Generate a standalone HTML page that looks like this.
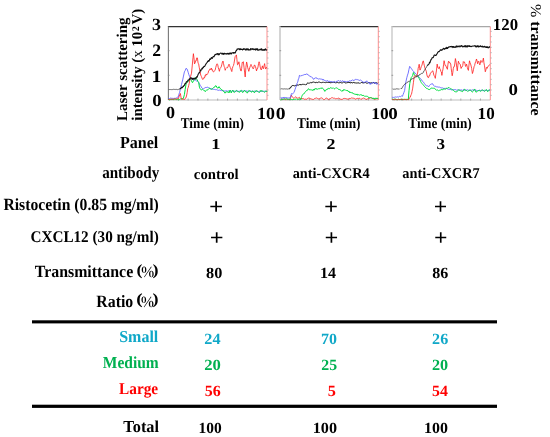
<!DOCTYPE html>
<html><head><meta charset="utf-8"><title>Laser scattering aggregation</title>
<style>
html,body{margin:0;padding:0;background:#fff;}
body{width:550px;height:437px;overflow:hidden;position:relative;}
svg{position:absolute;left:0;top:0;display:block;}
svg text{font-family:'Liberation Serif', 'Times New Roman', serif;font-weight:700;white-space:pre;text-rendering:geometricPrecision;}
svg text .pc{font-weight:400;}
</style></head><body>
<svg width="550" height="437" viewBox="0 0 550 437">
<rect x="0" y="0" width="550" height="437" fill="#fff"/>
<g id="charts">
<line x1="168.4" y1="100" x2="267" y2="100" stroke="#bdbdbd" stroke-width="1"/>
<line x1="178.26" y1="100.5" x2="178.26" y2="98.5" stroke="#9a9a9a" stroke-width="0.8"/>
<line x1="188.12" y1="100.5" x2="188.12" y2="98.5" stroke="#9a9a9a" stroke-width="0.8"/>
<line x1="197.98" y1="100.5" x2="197.98" y2="98.5" stroke="#9a9a9a" stroke-width="0.8"/>
<line x1="207.84" y1="100.5" x2="207.84" y2="98.5" stroke="#9a9a9a" stroke-width="0.8"/>
<line x1="217.70" y1="100.5" x2="217.70" y2="98.5" stroke="#9a9a9a" stroke-width="0.8"/>
<line x1="227.56" y1="100.5" x2="227.56" y2="98.5" stroke="#9a9a9a" stroke-width="0.8"/>
<line x1="237.42" y1="100.5" x2="237.42" y2="98.5" stroke="#9a9a9a" stroke-width="0.8"/>
<line x1="247.28" y1="100.5" x2="247.28" y2="98.5" stroke="#9a9a9a" stroke-width="0.8"/>
<line x1="257.14" y1="100.5" x2="257.14" y2="98.5" stroke="#9a9a9a" stroke-width="0.8"/>
<line x1="167.9" y1="26.6" x2="267" y2="26.6" stroke="#333" stroke-width="1.4"/>
<line x1="168.4" y1="26.6" x2="168.4" y2="100" stroke="#777" stroke-width="1.1"/>
<line x1="167.9" y1="50.7" x2="169.6" y2="50.7" stroke="#888" stroke-width="0.8"/>
<line x1="167.9" y1="75.3" x2="169.6" y2="75.3" stroke="#888" stroke-width="0.8"/>
<line x1="267" y1="26.6" x2="267" y2="100" stroke="#ff8c8c" stroke-width="1"/>
<line x1="267" y1="95.33" x2="268.6" y2="95.33" stroke="#aaa" stroke-width="0.7"/>
<line x1="267" y1="90.00" x2="268.6" y2="90.00" stroke="#aaa" stroke-width="0.7"/>
<line x1="267" y1="84.67" x2="268.6" y2="84.67" stroke="#aaa" stroke-width="0.7"/>
<line x1="267" y1="79.33" x2="268.6" y2="79.33" stroke="#aaa" stroke-width="0.7"/>
<line x1="267" y1="74.00" x2="268.6" y2="74.00" stroke="#aaa" stroke-width="0.7"/>
<line x1="267" y1="68.67" x2="268.6" y2="68.67" stroke="#aaa" stroke-width="0.7"/>
<line x1="267" y1="63.33" x2="268.6" y2="63.33" stroke="#aaa" stroke-width="0.7"/>
<line x1="267" y1="58.00" x2="268.6" y2="58.00" stroke="#aaa" stroke-width="0.7"/>
<line x1="267" y1="52.67" x2="268.6" y2="52.67" stroke="#aaa" stroke-width="0.7"/>
<line x1="267" y1="47.33" x2="268.6" y2="47.33" stroke="#aaa" stroke-width="0.7"/>
<line x1="267" y1="42.00" x2="268.6" y2="42.00" stroke="#aaa" stroke-width="0.7"/>
<line x1="267" y1="36.67" x2="268.6" y2="36.67" stroke="#aaa" stroke-width="0.7"/>
<line x1="267" y1="31.33" x2="268.6" y2="31.33" stroke="#aaa" stroke-width="0.7"/>
<polyline points="168.40,98.48 169.03,98.59 169.67,98.57 170.30,98.17 170.93,98.06 171.57,98.29 172.20,98.19 172.83,98.54 173.47,98.43 174.10,98.35 174.73,98.29 175.37,98.34 176.00,97.95 176.73,97.79 177.47,97.23 178.20,97.38 178.95,94.24 179.70,92.22 180.30,89.24 180.90,87.20 181.50,84.49 182.10,82.10 182.70,79.97 183.30,76.96 184.40,71.89 185.20,70.54 186.00,68.31 187.20,69.21 188.20,72.34 188.85,74.61 189.50,76.33 190.60,78.75 191.33,78.78 192.07,79.14 192.80,79.59 193.53,79.50 194.27,80.10 195.00,79.89 195.73,80.24 196.47,80.95 197.20,80.93 197.95,81.64 198.70,82.47 199.45,83.88 200.20,85.32 200.90,86.17 201.60,87.76 202.33,88.29 203.07,88.67 203.80,88.81 204.53,88.10 205.27,87.60 206.00,87.33 206.67,87.45 207.33,87.20 208.00,87.41 208.67,87.74 209.33,88.07 210.00,88.52 210.67,88.53 211.33,88.44 212.00,89.23 212.67,89.08 213.33,89.28 214.00,89.21 214.67,89.48 215.33,89.59 216.00,89.99 216.67,89.64 217.33,90.07 218.00,89.92 218.67,90.40 219.33,90.06 220.00,90.34 220.60,90.44 221.20,90.70 221.80,90.34 222.40,90.67 223.00,90.55 223.60,90.65 224.20,90.83 224.80,91.22 225.40,90.94 226.00,91.32 226.62,90.78 227.23,91.33 227.85,90.95 228.46,90.84 229.08,91.25 229.69,91.38 230.31,90.76 230.92,90.96 231.54,91.33 232.15,91.04 232.77,90.99 233.38,90.84 234.00,90.88 234.62,91.27 235.25,91.51 235.88,91.51 236.50,91.15 237.12,90.80 237.75,91.00 238.38,91.31 239.00,91.33 239.62,91.19 240.25,90.89 240.88,91.08 241.50,91.03 242.12,91.13 242.75,90.86 243.38,91.33 244.00,91.28 244.62,90.78 245.25,90.89 245.88,91.32 246.50,90.92 247.12,91.40 247.75,91.12 248.38,91.27 249.00,91.29 249.62,90.97 250.25,91.04 250.88,91.03 251.50,91.35 252.12,91.38 252.75,91.00 253.38,91.55 254.00,91.24 254.62,91.11 255.24,91.25 255.86,91.62 256.48,91.32 257.10,91.36 257.71,91.57 258.33,91.59 258.95,91.44 259.57,91.20 260.19,91.31 260.81,91.53 261.43,91.45 262.05,91.29 262.67,91.13 263.29,91.14 263.90,91.39 264.52,91.26 265.14,90.88 265.76,91.36 266.38,91.49 267.00,91.41" fill="none" stroke="#5050ff" stroke-width="0.8" stroke-linejoin="round"/>
<polyline points="168.40,99.45 169.00,99.55 169.60,99.90 170.20,99.44 170.80,99.47 171.40,99.54 172.00,99.12 172.60,99.44 173.20,99.55 173.80,99.70 174.40,98.99 175.00,99.19 175.60,98.97 176.20,99.68 176.80,99.55 177.40,98.89 178.00,99.82 178.60,99.79 179.20,99.47 179.80,99.43 180.40,98.96 181.12,98.72 181.85,99.13 182.58,98.56 183.30,98.59 184.40,94.64 185.20,89.33 186.20,83.16 186.83,82.41 187.47,82.08 188.10,81.02 188.72,80.77 189.35,80.25 189.97,80.04 190.60,79.46 191.23,80.18 191.87,81.80 192.50,82.70 193.60,80.54 194.20,79.57 194.80,78.35 195.40,77.43 196.30,78.74 197.20,79.77 197.95,81.57 198.70,82.30 199.40,87.15 200.20,88.89 200.93,89.72 201.67,89.88 202.40,89.30 203.10,89.66 203.80,90.51 204.55,90.62 205.30,91.68 205.98,90.65 206.65,89.87 207.32,89.98 208.00,89.68 208.67,88.87 209.33,88.39 210.00,88.33 210.67,89.30 211.33,89.42 212.00,89.12 212.67,88.58 213.33,87.77 214.00,87.06 214.67,87.16 215.33,85.91 216.00,85.66 216.75,87.00 217.50,88.19 218.25,87.98 219.00,86.63 219.67,87.98 220.33,88.28 221.00,89.42 221.67,89.55 222.33,89.94 223.00,90.97 223.67,91.57 224.33,91.84 225.00,93.18 225.67,92.08 226.33,91.83 227.00,91.85 227.67,91.98 228.33,91.77 229.00,92.99 230.00,90.04 230.61,91.25 231.22,92.93 231.96,91.32 232.71,90.11 233.32,91.12 233.94,92.38 234.54,92.28 235.15,91.35 235.76,91.12 236.36,90.30 237.11,90.83 237.86,91.78 238.61,91.75 239.36,92.28 239.96,92.03 240.57,90.80 241.17,90.22 242.02,91.81 242.88,92.55 243.68,91.08 244.49,90.12 245.18,91.24 245.87,92.01 246.57,91.84 247.26,93.17 248.06,91.92 248.86,90.47 249.57,90.90 250.28,91.19 250.98,91.74 251.66,92.21 252.33,91.02 253.00,91.03 253.67,91.42 254.35,92.83 254.96,92.00 255.58,91.09 256.19,90.37 256.91,91.38 257.63,91.20 258.35,91.83 259.07,92.64 259.71,92.21 260.35,91.26 261.00,90.20 261.75,91.34 262.49,91.13 263.24,91.45 263.99,92.21 264.71,92.07 265.44,91.37 266.16,91.18 266.89,91.06 267.00,91.67" fill="none" stroke="#00e040" stroke-width="1.0" stroke-linejoin="round"/>
<polyline points="168.40,99.40 168.92,99.54 169.43,99.50 169.95,99.53 170.46,99.23 170.98,99.21 171.49,99.14 172.01,99.13 172.53,99.30 173.04,99.02 173.56,99.14 174.07,98.98 174.59,98.98 175.11,98.99 175.62,99.12 176.14,98.99 176.65,98.72 177.17,98.78 177.68,98.70 178.20,98.95 178.70,97.62 179.20,96.32 179.70,95.03 180.40,93.50 181.10,97.98 181.90,99.42 182.48,99.20 183.06,99.44 183.64,99.29 184.22,99.40 184.80,99.33 185.50,98.17 186.20,97.05 186.20,97.14 186.70,95.01 187.20,92.62 187.70,88.58 188.20,87.60 188.70,85.54 189.20,83.52 189.90,79.47 190.60,76.35 191.50,73.17 192.30,65.09 193.00,57.50 193.40,53.70 194.10,59.13 194.50,63.89 195.05,62.99 195.60,60.80 196.15,60.90 196.70,57.92 197.40,57.93 198.10,63.15 198.65,63.90 199.20,67.21 200.00,71.32 200.70,75.06 201.40,76.52 201.95,77.93 202.50,79.36 203.05,79.23 203.60,78.92 204.10,77.23 204.60,77.71 205.10,75.55 205.60,76.13 206.10,73.95 206.60,74.82 207.30,74.08 208.00,73.54 208.63,70.77 209.27,70.51 209.90,68.90 210.60,69.55 211.30,68.01 211.80,69.95 212.30,69.52 212.80,71.05 213.50,71.99 214.20,71.48 214.70,70.65 215.20,69.98 215.70,67.65 216.20,65.85 216.70,64.20 217.20,63.77 217.75,64.79 218.30,67.81 218.85,69.51 219.40,71.31 219.95,68.66 220.50,67.92 221.20,66.93 221.90,64.24 222.45,62.06 223.00,61.02 223.55,63.66 224.10,66.35 224.65,67.32 225.20,70.31 225.75,68.75 226.30,68.23 226.85,67.50 227.40,67.87 227.95,66.96 228.50,65.02 229.05,64.15 229.60,65.57 230.15,67.62 230.70,68.04 231.25,70.23 231.80,71.57 232.35,68.46 232.90,66.56 233.45,65.57 234.00,63.38 234.55,60.03 235.10,56.69 235.75,55.95 236.40,54.90 236.95,59.72 237.50,64.82 238.20,64.23 238.90,61.77 239.45,64.86 240.00,67.64 240.55,70.02 241.10,71.10 241.65,68.45 242.20,62.39 242.75,62.64 243.30,61.68 244.00,67.11 244.60,72.11 245.20,76.95 245.90,67.47 246.60,61.97 247.15,64.13 247.70,67.66 248.25,69.33 248.80,71.33 249.35,68.99 249.90,67.25 250.45,65.67 251.00,64.39 251.55,65.67 252.10,66.91 252.65,67.93 253.20,68.89 253.75,67.73 254.30,65.10 254.85,65.16 255.40,66.44 255.95,68.38 256.50,70.93 257.00,68.79 257.50,68.76 258.00,66.94 258.55,63.75 259.10,61.79 259.65,63.56 260.20,66.96 260.75,69.16 261.30,69.91 261.85,68.18 262.40,65.84 262.95,68.20 263.50,68.81 264.05,65.71 264.60,63.61 265.10,66.63 265.60,69.04 266.10,68.35 266.60,66.98" fill="none" stroke="#ff1c1c" stroke-width="0.8" stroke-linejoin="round"/>
<polyline points="168.40,89.54 169.02,89.58 169.63,89.54 170.25,89.55 170.87,89.52 171.48,89.61 172.10,89.44 172.72,89.58 173.33,89.32 173.95,89.42 174.57,89.42 175.18,89.33 175.80,89.56 176.42,89.38 177.03,89.56 177.65,89.62 178.27,89.32 178.88,89.57 179.50,89.52" fill="none" stroke="#555" stroke-width="0.9" stroke-linejoin="round"/>
<polyline points="179.50,88.77 180.00,88.62 180.47,88.37 180.95,88.65 181.43,87.41 181.90,87.21 182.32,87.59 182.74,87.09 183.16,86.14 183.58,86.37 184.00,85.53 184.44,85.48 184.88,83.77 185.32,83.28 185.76,83.70 186.20,82.17 186.64,81.58 187.08,82.01 187.52,81.29 187.96,80.08 188.40,80.28 188.84,80.10 189.28,78.94 189.72,79.36 190.16,78.16 190.60,78.14 191.03,77.73 191.46,77.93 191.89,79.16 192.31,78.25 192.74,79.18 193.17,78.30 193.60,78.57 194.04,79.08 194.48,78.86 194.92,78.02 195.36,78.86 195.80,79.01 196.27,77.56 196.73,76.68 197.20,77.20 197.70,75.66 198.20,74.18 198.70,73.62 199.15,72.50 199.60,72.68 200.05,71.45 200.50,70.06 200.90,70.77 201.30,69.16 201.70,69.03 202.10,68.18 202.50,68.88 202.97,67.38 203.45,67.54 203.93,66.35 204.40,66.47 204.88,66.05 205.35,65.06 205.83,64.18 206.30,63.48 206.72,62.90 207.14,62.65 207.56,61.35 207.98,61.46 208.40,60.58 208.82,61.18 209.24,60.90 209.66,59.11 210.08,58.83 210.50,59.33 210.96,58.77 211.42,57.55 211.88,58.31 212.34,58.35 212.80,57.18 213.21,56.66 213.63,56.61 214.04,56.80 214.46,55.32 214.87,54.98 215.29,54.40 215.70,54.71 216.10,54.39 216.50,53.98 216.90,54.13 217.30,53.50 217.70,53.88 218.10,54.89 218.50,54.19 218.90,53.64 219.30,54.63 219.70,53.64 220.10,53.40 220.50,53.04 220.90,53.20 221.30,53.26 221.70,53.30 222.10,54.31 222.50,53.31 222.90,53.27 223.30,53.82 223.70,54.30 224.10,53.28 224.50,54.02 224.90,53.37 225.30,53.66 225.70,53.70 226.10,54.23 226.50,53.92 226.90,53.50 227.30,54.02 227.70,53.24 228.10,53.25 228.50,54.15 228.90,53.47 229.31,53.81 229.73,53.05 230.14,53.98 230.56,53.47 230.97,52.85 231.39,53.92 231.80,53.15 232.23,52.92 232.65,52.77 233.07,52.49 233.50,52.62 233.93,53.38 234.35,52.48 234.77,52.64 235.20,52.92 235.70,51.82 236.20,50.31 236.70,50.36 237.20,48.91 237.61,49.09 238.02,49.18 238.43,48.71 238.84,48.86 239.25,48.73 239.66,49.66 240.07,48.73 240.48,49.57 240.89,48.86 241.31,49.54 241.72,49.55 242.13,49.07 242.54,49.99 242.95,49.55 243.36,49.39 243.77,48.57 244.18,49.15 244.59,48.93 245.00,49.25 245.40,49.99 245.80,49.88 246.20,48.60 246.60,49.59 247.00,49.99 247.40,49.37 247.80,48.65 248.20,49.89 248.60,49.18 249.00,50.07 249.40,49.90 249.80,49.83 250.20,49.99 250.60,48.61 251.00,49.77 251.40,48.99 251.80,48.72 252.20,49.11 252.60,49.44 253.00,48.51 253.40,49.22 253.80,49.75 254.20,49.29 254.60,49.35 255.00,48.97 255.40,50.06 255.80,48.92 256.20,49.62 256.60,49.57 257.00,48.55 257.40,50.15 257.80,48.95 258.20,50.16 258.60,50.08 259.00,50.04 259.40,49.98 259.80,49.26 260.20,49.34 260.60,49.19 261.00,50.15 261.40,48.71 261.80,48.89 262.20,50.21 262.60,49.98 263.00,49.83 263.40,50.26 263.80,49.56 264.20,50.07 264.60,49.45 265.00,50.19 265.40,48.87 265.80,49.47 266.20,49.70 266.60,50.06 267.00,49.48" fill="none" stroke="#111" stroke-width="1.1" stroke-linejoin="round"/>
<line x1="280" y1="100" x2="378.3" y2="100" stroke="#bdbdbd" stroke-width="1"/>
<line x1="289.83" y1="100.5" x2="289.83" y2="98.5" stroke="#9a9a9a" stroke-width="0.8"/>
<line x1="299.66" y1="100.5" x2="299.66" y2="98.5" stroke="#9a9a9a" stroke-width="0.8"/>
<line x1="309.49" y1="100.5" x2="309.49" y2="98.5" stroke="#9a9a9a" stroke-width="0.8"/>
<line x1="319.32" y1="100.5" x2="319.32" y2="98.5" stroke="#9a9a9a" stroke-width="0.8"/>
<line x1="329.15" y1="100.5" x2="329.15" y2="98.5" stroke="#9a9a9a" stroke-width="0.8"/>
<line x1="338.98" y1="100.5" x2="338.98" y2="98.5" stroke="#9a9a9a" stroke-width="0.8"/>
<line x1="348.81" y1="100.5" x2="348.81" y2="98.5" stroke="#9a9a9a" stroke-width="0.8"/>
<line x1="358.64" y1="100.5" x2="358.64" y2="98.5" stroke="#9a9a9a" stroke-width="0.8"/>
<line x1="368.47" y1="100.5" x2="368.47" y2="98.5" stroke="#9a9a9a" stroke-width="0.8"/>
<line x1="279.5" y1="26.6" x2="378.3" y2="26.6" stroke="#333" stroke-width="1.4"/>
<line x1="280" y1="26.6" x2="280" y2="100" stroke="#d0d0d0" stroke-width="1.8"/>
<line x1="279.5" y1="50.7" x2="281.2" y2="50.7" stroke="#888" stroke-width="0.8"/>
<line x1="279.5" y1="75.3" x2="281.2" y2="75.3" stroke="#888" stroke-width="0.8"/>
<line x1="378.3" y1="26.6" x2="378.3" y2="100" stroke="#ff8c8c" stroke-width="1"/>
<line x1="378.3" y1="95.33" x2="379.90000000000003" y2="95.33" stroke="#aaa" stroke-width="0.7"/>
<line x1="378.3" y1="90.00" x2="379.90000000000003" y2="90.00" stroke="#aaa" stroke-width="0.7"/>
<line x1="378.3" y1="84.67" x2="379.90000000000003" y2="84.67" stroke="#aaa" stroke-width="0.7"/>
<line x1="378.3" y1="79.33" x2="379.90000000000003" y2="79.33" stroke="#aaa" stroke-width="0.7"/>
<line x1="378.3" y1="74.00" x2="379.90000000000003" y2="74.00" stroke="#aaa" stroke-width="0.7"/>
<line x1="378.3" y1="68.67" x2="379.90000000000003" y2="68.67" stroke="#aaa" stroke-width="0.7"/>
<line x1="378.3" y1="63.33" x2="379.90000000000003" y2="63.33" stroke="#aaa" stroke-width="0.7"/>
<line x1="378.3" y1="58.00" x2="379.90000000000003" y2="58.00" stroke="#aaa" stroke-width="0.7"/>
<line x1="378.3" y1="52.67" x2="379.90000000000003" y2="52.67" stroke="#aaa" stroke-width="0.7"/>
<line x1="378.3" y1="47.33" x2="379.90000000000003" y2="47.33" stroke="#aaa" stroke-width="0.7"/>
<line x1="378.3" y1="42.00" x2="379.90000000000003" y2="42.00" stroke="#aaa" stroke-width="0.7"/>
<line x1="378.3" y1="36.67" x2="379.90000000000003" y2="36.67" stroke="#aaa" stroke-width="0.7"/>
<line x1="378.3" y1="31.33" x2="379.90000000000003" y2="31.33" stroke="#aaa" stroke-width="0.7"/>
<polyline points="280.50,99.72 281.13,99.14 281.77,99.05 282.40,99.73 283.03,99.15 283.67,99.10 284.30,99.47 284.93,99.25 285.57,99.62 286.20,99.15 286.83,99.65 287.47,99.20 288.10,99.39 288.73,99.62 289.37,99.44 290.00,99.60 290.65,97.55 291.30,95.18 292.05,96.67 292.80,97.36 294.00,98.47 294.85,97.38 295.70,96.84 296.45,97.36 297.20,98.31 297.93,97.96 298.67,97.86 299.40,97.35 300.20,98.29 301.00,99.08 302.00,98.02 302.62,98.70 303.24,98.44 303.86,98.96 304.48,99.28 305.10,99.26 305.72,99.09 306.36,99.33 307.00,98.98 307.64,98.41 308.28,98.07 308.92,98.17 309.59,98.04 310.25,98.89 310.91,98.81 311.58,99.04 312.24,99.18 312.90,99.58 313.56,99.45 314.22,98.72 314.87,98.47 315.53,98.31 316.18,97.80 316.83,98.25 317.48,98.45 318.13,98.62 318.78,99.02 319.51,98.67 320.24,98.11 320.97,98.49 321.70,97.79 322.43,98.36 323.15,98.87 323.88,99.76 324.52,99.44 325.17,98.80 325.81,98.40 326.46,97.85 327.16,98.90 327.86,98.88 328.56,99.63 329.20,99.17 329.84,98.84 330.49,98.54 331.13,98.11 331.77,97.68 332.41,97.71 333.12,98.14 333.82,98.28 334.53,98.22 335.24,98.81 335.95,98.61 336.65,98.62 337.36,98.67 338.07,98.49 338.77,97.92 339.53,98.73 340.30,99.03 341.06,99.58 341.79,99.28 342.52,99.22 343.25,98.71 343.98,98.17 344.66,98.48 345.33,98.56 346.00,98.49 346.68,98.92 347.35,99.08 348.03,99.06 348.64,99.15 349.26,98.36 349.88,98.56 350.49,98.51 351.11,98.16 351.73,97.90 352.35,98.12 353.02,98.17 353.70,98.28 354.37,98.36 355.05,99.24 355.73,99.04 356.37,98.68 357.01,98.55 357.65,98.39 358.29,98.62 358.94,97.95 359.63,98.46 360.33,98.78 361.03,99.49 361.68,98.86 362.32,98.52 362.97,98.36 363.62,98.05 364.25,98.44 364.88,98.34 365.51,99.04 366.14,99.82 366.74,98.99 367.35,98.85 367.95,98.80 368.56,98.46 369.16,98.46 369.77,98.18 370.37,97.75 371.02,97.85 371.68,98.09 372.33,98.38 372.98,98.49 373.63,99.17 374.28,99.07 374.90,99.46 375.52,99.17 376.14,98.64 376.76,98.83 377.38,98.79 378.00,98.28" fill="none" stroke="#ff1c1c" stroke-width="0.8" stroke-linejoin="round"/>
<polyline points="280.50,99.89 281.01,99.93 281.51,99.85 282.02,98.72 282.53,99.43 283.04,99.19 283.55,99.34 284.05,98.78 284.56,98.87 285.07,99.22 285.57,98.91 286.08,99.24 286.59,98.63 287.10,98.72 287.61,99.59 288.11,99.19 288.62,99.32 289.13,99.63 289.63,99.10 290.14,98.68 290.65,99.70 291.16,99.42 291.67,99.52 292.17,99.47 292.68,99.96 293.19,99.11 293.69,99.66 294.20,99.12 294.71,99.40 295.22,99.52 295.73,99.04 296.23,98.72 296.74,99.26 297.25,99.61 297.75,99.43 298.26,99.23 298.77,99.50 299.28,98.85 299.79,98.85 300.29,99.05 300.80,99.74 301.30,97.71 301.80,96.43 302.30,95.24 302.80,94.42 303.30,94.02 303.80,93.70 304.35,93.50 304.90,92.26 305.45,91.77 306.00,91.10 306.55,90.58 307.10,90.69 307.65,89.82 308.20,88.86 308.75,88.75 309.30,89.80 309.85,89.79 310.40,90.06 310.95,89.33 311.50,89.86 312.05,90.49 312.60,90.13 313.17,90.44 313.73,89.17 314.30,90.12 314.87,88.64 315.43,88.97 316.00,88.23 316.50,89.21 317.00,88.92 317.50,89.20 318.00,88.85 318.50,88.93 319.03,88.30 319.57,88.88 320.10,88.50 320.63,87.88 321.17,88.71 321.70,87.83 322.30,88.07 322.90,88.41 323.50,89.45 324.00,89.54 324.50,91.04 325.00,91.53 325.50,90.12 326.00,89.58 326.50,89.80 327.00,88.92 327.50,89.06 328.00,89.24 328.50,88.25 329.00,88.29 329.50,88.76 330.07,87.95 330.65,87.63 331.23,88.22 331.80,87.94 332.34,88.23 332.88,88.12 333.42,87.92 333.96,88.49 334.50,88.86 335.08,88.52 335.66,87.87 336.24,87.87 336.82,87.95 337.40,88.38 337.92,88.53 338.45,88.97 338.98,89.81 339.50,89.25 340.10,90.26 340.70,90.12 341.30,90.71 341.90,91.37 342.42,90.33 342.94,91.09 343.46,89.65 343.98,90.11 344.50,89.86 345.00,89.61 345.50,90.25 346.00,90.31 346.50,90.46 347.00,91.02 347.50,90.21 348.00,91.01 348.50,91.86 349.00,91.24 349.50,92.53 350.00,91.89 350.50,92.75 351.00,92.24 351.50,92.83 352.00,92.99 352.50,92.70 353.00,93.75 353.50,93.62 354.00,94.10 354.50,94.07 355.00,94.28 355.50,94.31 356.00,94.07 356.50,94.98 357.00,93.92 357.50,95.10 358.00,95.16 358.50,94.72 359.00,95.19 359.50,95.11 360.00,95.08 360.50,94.71 361.00,94.81 361.50,94.92 362.00,94.92 362.52,95.98 363.04,95.26 363.56,95.46 364.08,95.65 364.60,96.34 365.20,96.09 365.80,96.43 366.40,96.23 367.00,96.49 367.50,96.42 368.00,96.80 368.50,97.07 369.00,98.09 369.50,97.67 370.00,97.19 370.50,97.75 371.00,97.34 371.50,98.03 372.00,97.92 372.50,98.58 373.00,97.83 373.50,98.74 374.00,97.98 374.50,99.09 375.00,98.69 375.53,97.89 376.07,99.00 376.60,98.29 377.13,98.44 377.67,98.17 378.20,99.17" fill="none" stroke="#00e040" stroke-width="1.0" stroke-linejoin="round"/>
<polyline points="280.50,89.00 281.11,88.78 281.73,88.78 282.34,88.94 282.96,88.72 283.57,89.01 284.19,89.01 284.80,88.72 285.41,88.97 286.03,88.90 286.64,88.95 287.26,89.08 287.87,89.09 288.49,88.86 289.10,89.04" fill="none" stroke="#555" stroke-width="0.9" stroke-linejoin="round"/>
<polyline points="289.10,89.11 289.60,88.74 290.10,87.58 290.60,87.90 291.30,86.34 292.00,86.07 292.50,85.44 293.00,86.06 293.50,85.40 294.00,85.91 294.50,85.87 295.00,85.87 295.51,85.43 296.03,85.74 296.54,85.75 297.06,84.76 297.57,85.05 298.09,85.37 298.60,85.04 299.13,84.70 299.66,84.52 300.19,85.12 300.71,84.21 301.24,84.85 301.77,84.89 302.30,84.16 302.83,84.33 303.36,84.31 303.89,84.54 304.41,84.37 304.94,84.89 305.47,84.92 306.00,84.32 306.55,84.52 307.10,83.32 307.65,82.97 308.20,83.17 308.75,83.17 309.30,83.07 309.85,83.12 310.40,82.86 310.91,82.25 311.42,82.71 311.93,82.87 312.44,82.02 312.95,82.40 313.45,82.05 313.96,82.02 314.47,82.33 314.98,82.51 315.49,82.79 316.00,81.93 316.50,82.31 317.00,82.81 317.50,82.58 318.00,82.35 318.50,82.07 319.00,82.46 319.50,82.10 320.00,82.49 320.50,82.50 321.00,82.25 321.50,82.66 322.00,82.27 322.50,82.34 323.00,82.71 323.50,82.13 324.00,82.07 324.50,82.47 325.00,82.33 325.50,82.78 326.00,82.17 326.50,82.30 327.00,82.00 327.50,82.40 328.00,82.27 328.50,82.42 329.00,82.74 329.50,82.03 330.00,82.99 330.50,82.72 331.00,82.83 331.50,82.57 332.00,82.62 332.50,82.46 333.00,82.46 333.50,82.29 334.00,82.38 334.50,82.38 335.00,82.44 335.50,83.01 336.00,82.90 336.50,82.74 337.00,82.12 337.50,82.36 338.00,82.64 338.50,82.79 339.00,82.52 339.50,82.73 340.00,83.01 340.50,82.37 341.00,82.48 341.50,82.86 342.00,82.42 342.50,82.82 343.00,82.50 343.50,82.12 344.00,82.56 344.50,82.17 345.00,82.88 345.50,82.96 346.00,82.65 346.50,83.03 347.00,82.35 347.50,82.60 348.00,82.34 348.50,82.22 349.00,83.00 349.50,82.24 350.00,83.13 350.50,82.77 351.00,82.92 351.50,82.28 352.00,83.15 352.50,83.04 353.00,82.36 353.50,82.45 354.00,82.42 354.50,82.79 355.00,82.38 355.50,83.10 356.00,82.80 356.50,83.00 357.00,82.55 357.50,82.95 358.00,82.75 358.50,82.95 359.00,82.71 359.50,83.29 360.00,83.15 360.50,83.13 361.00,82.64 361.50,82.49 362.00,82.45 362.50,82.43 363.00,83.27 363.50,82.58 364.00,83.17 364.50,82.53 365.00,82.92 365.50,82.56 366.00,82.62 366.50,83.07 367.00,82.94 367.50,83.28 368.00,82.58 368.50,82.62 369.00,82.42 369.50,82.58 370.00,83.36 370.50,82.95 371.00,82.87 371.50,82.74 372.00,83.17 372.50,83.10 373.00,82.58 373.50,82.48 374.00,82.61 374.50,83.26 375.00,83.19 375.50,82.69 376.00,82.70 376.50,82.78 377.00,83.16 377.50,83.24 378.00,82.74" fill="none" stroke="#111" stroke-width="1.0" stroke-linejoin="round"/>
<polyline points="280.50,97.65 281.00,98.30 281.51,98.19 282.01,97.43 282.52,98.21 283.02,97.91 283.53,97.19 284.04,98.27 284.54,97.43 285.05,97.48 285.55,97.61 286.06,97.80 286.56,97.23 287.06,97.89 287.57,98.06 288.08,97.66 288.58,97.99 289.09,97.78 289.59,98.01 290.10,97.23 290.60,97.43 291.30,93.96 291.85,93.35 292.40,94.22 292.95,93.64 293.50,92.82 294.00,92.30 294.50,91.00 295.00,89.63 295.70,87.39 296.40,85.55 296.90,83.62 297.40,82.74 297.90,81.22 298.40,79.02 298.90,78.18 299.40,75.45 299.95,75.53 300.50,76.23 301.05,75.44 301.60,75.61 302.18,75.55 302.76,75.18 303.34,75.03 303.92,74.83 304.50,74.58 305.08,73.99 305.66,74.82 306.24,74.10 306.82,73.74 307.40,74.09 307.95,75.03 308.50,75.25 309.05,75.50 309.60,75.97 310.15,76.04 310.70,76.89 311.25,76.95 311.80,76.98 312.30,77.56 312.80,78.01 313.30,79.22 313.84,79.24 314.38,78.87 314.92,78.00 315.46,77.70 316.00,78.44 316.50,77.97 317.00,77.94 317.50,78.65 318.00,78.92 318.50,79.05 319.03,78.96 319.57,78.80 320.10,79.04 320.63,79.02 321.17,79.30 321.70,79.04 322.25,79.16 322.80,80.15 323.35,79.33 323.90,80.34 324.45,80.17 325.00,80.87 325.57,80.88 326.13,80.85 326.70,81.03 327.27,80.71 327.83,80.59 328.40,81.60 328.92,81.09 329.43,81.00 329.95,81.92 330.47,81.74 330.98,81.16 331.50,81.82 332.03,81.41 332.56,82.27 333.09,81.57 333.61,82.38 334.14,82.01 334.67,81.38 335.20,81.79 335.75,82.31 336.30,81.84 336.85,81.04 337.40,81.14 337.95,80.88 338.50,80.51 339.07,81.11 339.63,81.23 340.20,80.66 340.77,81.06 341.33,81.43 341.90,81.47 342.42,80.74 342.93,80.76 343.45,81.89 343.97,81.33 344.48,81.27 345.00,82.16 345.51,81.45 346.03,81.92 346.54,81.81 347.06,81.27 347.57,81.40 348.09,81.12 348.60,81.67 349.17,80.91 349.73,80.76 350.30,81.33 350.87,80.50 351.43,80.56 352.00,80.52 352.52,79.80 353.04,80.04 353.57,80.49 354.09,80.68 354.61,79.81 355.13,79.87 355.66,79.27 356.18,79.69 356.70,79.43 357.25,79.70 357.80,79.56 358.35,79.68 358.90,80.50 359.45,80.43 360.00,80.03 360.57,80.07 361.13,80.43 361.70,80.87 362.27,81.29 362.83,82.22 363.40,82.53 363.97,81.81 364.53,82.45 365.10,81.95 365.67,81.75 366.23,81.72 366.80,80.78 367.37,81.97 367.93,82.54 368.50,82.94 369.07,82.39 369.63,83.84 370.20,84.48 370.75,83.19 371.30,83.87 371.85,83.58 372.40,82.41 372.95,82.98 373.50,82.81 374.02,83.01 374.54,82.39 375.07,83.70 375.59,82.83 376.11,83.06 376.63,84.30 377.16,83.96 377.68,83.80 378.20,84.27" fill="none" stroke="#5050ff" stroke-width="0.8" stroke-linejoin="round"/>
<line x1="392" y1="100" x2="490.3" y2="100" stroke="#bdbdbd" stroke-width="1"/>
<line x1="401.83" y1="100.5" x2="401.83" y2="98.5" stroke="#9a9a9a" stroke-width="0.8"/>
<line x1="411.66" y1="100.5" x2="411.66" y2="98.5" stroke="#9a9a9a" stroke-width="0.8"/>
<line x1="421.49" y1="100.5" x2="421.49" y2="98.5" stroke="#9a9a9a" stroke-width="0.8"/>
<line x1="431.32" y1="100.5" x2="431.32" y2="98.5" stroke="#9a9a9a" stroke-width="0.8"/>
<line x1="441.15" y1="100.5" x2="441.15" y2="98.5" stroke="#9a9a9a" stroke-width="0.8"/>
<line x1="450.98" y1="100.5" x2="450.98" y2="98.5" stroke="#9a9a9a" stroke-width="0.8"/>
<line x1="460.81" y1="100.5" x2="460.81" y2="98.5" stroke="#9a9a9a" stroke-width="0.8"/>
<line x1="470.64" y1="100.5" x2="470.64" y2="98.5" stroke="#9a9a9a" stroke-width="0.8"/>
<line x1="480.47" y1="100.5" x2="480.47" y2="98.5" stroke="#9a9a9a" stroke-width="0.8"/>
<line x1="391.5" y1="26.6" x2="490.3" y2="26.6" stroke="#a8a8a8" stroke-width="1.3"/>
<line x1="392" y1="26.6" x2="392" y2="100" stroke="#cccccc" stroke-width="1.5"/>
<line x1="391.5" y1="50.7" x2="393.2" y2="50.7" stroke="#888" stroke-width="0.8"/>
<line x1="391.5" y1="75.3" x2="393.2" y2="75.3" stroke="#888" stroke-width="0.8"/>
<line x1="490.3" y1="26.6" x2="490.3" y2="100" stroke="#ff8c8c" stroke-width="1"/>
<line x1="490.3" y1="95.33" x2="491.90000000000003" y2="95.33" stroke="#aaa" stroke-width="0.7"/>
<line x1="490.3" y1="90.00" x2="491.90000000000003" y2="90.00" stroke="#aaa" stroke-width="0.7"/>
<line x1="490.3" y1="84.67" x2="491.90000000000003" y2="84.67" stroke="#aaa" stroke-width="0.7"/>
<line x1="490.3" y1="79.33" x2="491.90000000000003" y2="79.33" stroke="#aaa" stroke-width="0.7"/>
<line x1="490.3" y1="74.00" x2="491.90000000000003" y2="74.00" stroke="#aaa" stroke-width="0.7"/>
<line x1="490.3" y1="68.67" x2="491.90000000000003" y2="68.67" stroke="#aaa" stroke-width="0.7"/>
<line x1="490.3" y1="63.33" x2="491.90000000000003" y2="63.33" stroke="#aaa" stroke-width="0.7"/>
<line x1="490.3" y1="58.00" x2="491.90000000000003" y2="58.00" stroke="#aaa" stroke-width="0.7"/>
<line x1="490.3" y1="52.67" x2="491.90000000000003" y2="52.67" stroke="#aaa" stroke-width="0.7"/>
<line x1="490.3" y1="47.33" x2="491.90000000000003" y2="47.33" stroke="#aaa" stroke-width="0.7"/>
<line x1="490.3" y1="42.00" x2="491.90000000000003" y2="42.00" stroke="#aaa" stroke-width="0.7"/>
<line x1="490.3" y1="36.67" x2="491.90000000000003" y2="36.67" stroke="#aaa" stroke-width="0.7"/>
<line x1="490.3" y1="31.33" x2="491.90000000000003" y2="31.33" stroke="#aaa" stroke-width="0.7"/>
<polyline points="392.00,97.30 392.61,97.32 393.22,97.30 393.84,97.63 394.45,97.27 395.06,97.34 395.67,96.83 396.28,97.03 396.89,97.18 397.51,96.87 398.12,97.09 398.73,96.96 399.34,96.52 399.95,96.18 400.56,96.63 401.18,96.10 401.79,95.94 402.40,96.36 403.13,94.47 403.87,92.50 404.60,90.62 405.70,82.79 406.80,77.71 407.50,75.13 408.20,73.13 408.95,69.43 409.70,66.36 410.43,67.26 411.15,68.28 411.88,69.28 412.60,70.50 413.20,70.96 413.80,71.67 414.40,72.70 415.00,72.77 415.60,73.82 416.32,74.49 417.04,75.09 417.76,75.81 418.48,76.67 419.20,77.26 419.82,77.74 420.43,78.55 421.05,79.22 421.67,80.06 422.28,81.21 422.90,81.55 423.62,82.22 424.35,83.43 425.07,84.59 425.80,85.26 426.52,85.79 427.25,85.71 427.98,86.04 428.70,86.81 429.30,85.65 429.90,85.09 430.50,84.42 431.17,84.12 431.83,83.84 432.50,83.65 433.20,84.98 433.90,85.47 434.60,86.32 435.28,86.19 435.96,86.72 436.64,86.85 437.32,86.88 438.00,87.02 438.60,87.13 439.20,87.05 439.80,87.27 440.40,87.64 441.00,87.39 441.67,87.99 442.33,87.91 443.00,88.12 443.67,88.43 444.33,88.45 445.00,88.25 445.67,88.44 446.33,88.38 447.00,88.52 447.67,89.28 448.33,89.15 449.00,89.53 449.67,89.50 450.33,89.27 451.00,89.83 451.67,89.90 452.33,89.67 453.00,89.51 453.67,89.71 454.33,89.63 455.00,89.81 455.67,89.64 456.33,90.12 457.00,90.34 457.62,89.80 458.23,90.20 458.85,90.06 459.46,89.99 460.08,90.29 460.69,89.91 461.31,90.22 461.92,89.67 462.54,90.33 463.15,89.78 463.77,89.65 464.38,90.27 465.00,90.15 465.62,90.14 466.25,90.22 466.88,89.97 467.50,89.81 468.12,89.97 468.75,90.43 469.38,90.47 470.00,89.96 470.62,90.13 471.25,90.15 471.88,90.49 472.50,89.88 473.12,90.47 473.75,90.09 474.38,90.32 475.00,90.04 475.60,90.02 476.20,90.58 476.80,90.33 477.40,90.66 478.00,90.60 478.60,90.52 479.20,90.06 479.80,90.43 480.40,90.72 481.00,90.38 481.60,90.08 482.20,90.18 482.80,90.75 483.40,90.75 484.00,90.24 484.60,90.30 485.20,90.59 485.80,90.45 486.40,90.23 487.00,90.80 487.60,90.55 488.20,90.38 488.80,90.15 489.40,90.50 490.00,90.68" fill="none" stroke="#5050ff" stroke-width="0.8" stroke-linejoin="round"/>
<polyline points="392.00,99.01 392.60,99.11 393.21,99.39 393.81,99.68 394.41,99.14 395.02,99.11 395.62,99.23 396.23,99.76 396.83,99.15 397.43,99.74 398.04,99.66 398.64,99.14 399.24,99.54 399.85,99.45 400.45,99.41 401.06,100.00 401.66,99.09 402.26,99.02 402.87,99.94 403.47,99.40 404.07,99.20 404.68,99.33 405.28,99.36 405.89,99.96 406.49,99.21 407.09,99.22 407.70,99.58 408.30,99.55 409.00,90.75 409.80,83.34 410.50,80.31 411.20,77.60 411.95,76.74 412.70,75.39 413.40,72.53 414.13,74.24 414.87,75.37 415.60,76.15 416.33,75.85 417.07,76.56 417.80,76.63 418.55,77.19 419.30,78.74 420.00,80.02 420.70,81.54 421.35,82.69 422.00,83.53 422.80,84.36 423.60,85.38 424.40,86.34 425.20,87.21 426.00,87.98 426.60,88.45 427.20,88.71 427.80,88.69 428.40,89.02 429.00,89.92 429.60,89.49 430.20,89.25 430.80,88.31 431.40,88.05 432.00,88.42 432.65,88.20 433.30,88.40 433.95,87.90 434.60,88.30 435.23,89.28 435.87,89.48 436.50,90.29 437.25,89.85 438.00,90.45 438.60,90.70 439.20,90.24 439.80,90.49 440.40,90.16 441.00,89.62 441.67,89.43 442.33,90.15 443.00,89.12 443.67,89.03 444.33,89.00 445.00,89.21 445.67,89.09 446.33,88.44 447.00,88.20 447.67,88.29 448.33,87.58 449.00,87.47 449.64,88.19 450.28,88.70 450.92,88.58 451.56,89.13 452.20,89.64 453.00,90.00 453.69,90.53 454.39,91.38 455.08,91.74 455.78,91.79 456.52,91.80 457.26,91.53 458.00,90.39 458.75,89.56 459.37,90.28 460.00,90.55 460.63,90.80 461.26,91.03 461.89,91.47 462.58,91.64 463.27,90.25 463.97,90.24 464.66,89.26 465.27,89.65 465.89,90.67 466.51,90.54 467.12,90.83 467.74,91.49 468.45,91.09 469.15,90.27 469.86,89.96 470.49,90.11 471.11,90.84 471.73,91.64 472.36,92.00 473.06,91.36 473.77,90.21 474.48,88.98 475.24,90.30 475.99,92.29 476.71,91.69 477.42,91.33 478.13,90.51 478.79,90.65 479.46,90.48 480.12,91.41 480.78,90.92 481.41,90.80 482.05,90.08 482.68,89.89 483.56,90.52 484.45,91.35 485.26,90.65 486.07,89.50 486.89,90.18 487.71,91.70 488.53,90.64 489.34,89.72 490.00,90.33" fill="none" stroke="#00e040" stroke-width="1.0" stroke-linejoin="round"/>
<polyline points="392.00,99.53 392.50,99.55 393.00,99.63 393.50,99.41 394.00,99.56 394.50,99.66 395.00,99.66 395.50,99.37 396.00,99.56 396.50,99.55 397.00,99.50 397.50,99.69 398.00,99.51 398.50,99.48 399.00,99.68 399.50,99.55 400.00,99.42 400.50,99.42 401.00,99.50 401.50,99.32 402.00,99.54 402.50,99.59 403.00,99.47 403.50,99.64 404.00,99.67 404.50,99.52 405.00,99.57 405.50,99.35 406.00,99.32 406.50,99.69 407.00,99.41 407.50,99.39 408.00,99.66 408.50,99.60 409.00,99.35 409.50,98.33 410.00,97.20 410.50,96.11 410.50,96.48 411.00,94.82 411.50,94.18 412.00,91.63 412.70,88.15 413.40,82.75 414.20,76.62 414.75,75.74 415.30,76.09 415.85,76.28 416.40,76.76 417.10,75.00 417.80,71.95 418.10,68.63 418.65,66.42 419.20,64.25 420.00,70.13 420.70,68.51 421.40,66.28 422.03,65.09 422.67,62.09 423.30,60.85 423.85,63.37 424.40,65.87 425.10,68.62 425.80,70.13 426.35,71.50 426.90,74.95 427.60,77.00 428.10,77.63 428.60,77.55 429.10,75.57 429.65,75.84 430.20,73.79 430.70,72.83 431.20,72.64 431.70,71.84 432.25,71.18 432.80,70.73 433.35,72.92 433.90,75.28 434.60,76.08 435.30,78.35 435.85,74.03 436.40,70.96 437.20,64.10 437.70,67.28 438.20,68.06 438.75,68.61 439.30,66.66 439.85,68.77 440.40,69.59 440.90,71.65 441.40,71.99 441.90,75.40 442.45,71.65 443.00,69.07 443.55,64.78 444.10,60.69 444.65,63.61 445.20,65.59 445.75,65.54 446.30,66.89 446.85,68.18 447.40,69.32 447.95,64.32 448.50,61.17 449.05,61.79 449.60,63.00 450.15,62.79 450.70,63.88 451.20,68.30 451.70,72.44 452.20,75.77 452.75,72.79 453.30,68.53 453.85,66.62 454.40,66.48 454.90,63.09 455.40,58.55 456.20,62.37 456.75,67.25 457.30,70.83 457.85,65.52 458.40,61.22 458.95,62.99 459.50,63.64 460.20,64.20 461.10,68.48 461.65,66.98 462.20,66.85 462.75,65.48 463.30,61.56 463.85,62.44 464.40,61.93 464.95,63.47 465.50,66.39 466.05,65.90 466.60,64.12 467.30,67.42 467.85,69.30 468.40,70.38 468.95,65.12 469.50,60.81 470.05,62.87 470.60,64.07 471.15,66.10 471.70,68.56 472.40,73.54 472.95,71.93 473.50,69.56 474.05,66.68 474.60,65.64 475.15,63.04 475.70,61.75 476.50,58.99 477.05,61.08 477.60,63.75 478.15,61.56 478.70,61.01 479.25,63.15 479.80,64.86 480.35,63.45 480.90,60.45 481.45,61.81 482.00,62.41 482.70,61.33 483.40,58.12 483.95,62.85 484.50,65.79 485.30,71.75 485.85,70.09 486.40,67.39 487.10,68.39 487.80,66.81 488.30,65.99 488.80,65.61 489.30,64.96 490.00,64.43" fill="none" stroke="#ff1c1c" stroke-width="0.8" stroke-linejoin="round"/>
<polyline points="392.60,88.93 393.23,89.19 393.85,89.18 394.48,89.17 395.11,89.12 395.74,89.15 396.36,88.80 396.99,89.05 397.62,88.90 398.25,89.09 398.87,88.97 399.50,89.02" fill="none" stroke="#555" stroke-width="0.9" stroke-linejoin="round"/>
<polyline points="400.50,89.05 401.10,88.37 401.70,88.59 402.25,87.67 402.80,86.57 403.40,85.68 404.00,85.14 404.60,84.30 405.10,84.06 405.60,83.35 406.10,83.45 406.60,83.01 407.10,82.39 407.60,82.10 408.18,81.97 408.76,81.32 409.34,81.31 409.92,80.90 410.50,80.37 411.08,79.39 411.66,79.00 412.24,78.79 412.82,78.47 413.40,78.36 413.90,78.23 414.40,77.78 414.90,77.61 415.40,77.33 415.90,76.66 416.40,76.82 416.91,76.27 417.43,76.13 417.94,75.51 418.46,75.72 418.97,75.63 419.49,74.65 420.00,74.76 420.58,73.94 421.16,73.82 421.74,73.29 422.32,73.47 422.90,72.98 423.45,72.22 424.00,70.77 424.55,70.28 425.10,69.36 425.65,68.28 426.20,67.68 426.75,66.52 427.30,65.33" fill="none" stroke="#333" stroke-width="0.8" stroke-linejoin="round"/>
<polyline points="427.30,65.55 427.75,65.04 428.20,64.85 428.65,64.34 429.10,63.71 429.55,62.28 430.00,62.62 430.40,61.10 430.80,60.23 431.20,59.21 431.60,59.20 432.00,57.95 432.40,57.64 432.80,57.68 433.20,57.44 433.60,56.90 434.00,55.34 434.40,55.04 434.80,55.09 435.20,55.30 435.60,55.50 436.00,55.18 436.40,54.95 436.80,53.96 437.20,53.60 437.60,52.61 438.00,52.20 438.40,51.63 438.80,51.76 439.20,51.47 439.60,51.02 440.00,50.33 440.43,50.18 440.87,49.70 441.30,50.40 441.73,49.83 442.17,49.90 442.60,49.80 443.03,48.80 443.45,48.39 443.88,48.50 444.30,49.35 444.73,49.02 445.15,48.25 445.57,48.69 446.00,47.85 446.40,48.59 446.80,47.26 447.20,48.22 447.60,48.51 448.00,47.52 448.40,47.50 448.80,46.88 449.20,47.02 449.60,46.86 450.00,46.87 450.42,46.46 450.83,46.78 451.25,46.42 451.67,47.04 452.08,46.80 452.50,46.46 452.92,47.56 453.33,46.50 453.75,46.80 454.17,47.33 454.58,47.06 455.00,47.35 455.41,46.75 455.82,47.15 456.24,45.83 456.65,46.88 457.06,46.22 457.47,46.17 457.88,46.87 458.29,46.80 458.71,46.14 459.12,46.15 459.53,45.99 459.94,47.01 460.35,46.48 460.76,45.89 461.18,46.30 461.59,45.52 462.00,45.83 462.40,46.19 462.80,46.94 463.20,46.74 463.60,46.24 464.00,46.57 464.40,45.74 464.80,46.44 465.20,46.91 465.60,45.56 466.00,46.79 466.40,46.87 466.80,45.87 467.20,46.57 467.60,46.84 468.00,45.49 468.40,45.98 468.80,46.18 469.20,46.49 469.60,45.64 470.00,46.40 470.40,46.34 470.80,46.59 471.20,46.41 471.60,46.62 472.00,46.22 472.40,46.13 472.80,46.01 473.20,45.93 473.60,46.03 474.00,46.09 474.40,45.94 474.80,45.55 475.20,45.97 475.60,46.85 476.00,45.84 476.40,46.93 476.80,46.70 477.20,46.11 477.60,45.74 478.00,46.81 478.41,46.95 478.82,45.94 479.24,46.54 479.65,46.70 480.06,46.51 480.47,45.73 480.88,45.94 481.29,46.74 481.71,46.63 482.12,46.71 482.53,46.11 482.94,47.09 483.35,46.95 483.76,46.51 484.18,47.12 484.59,46.26 485.00,46.65 485.42,46.72 485.83,47.52 486.25,47.55 486.67,46.68 487.08,47.47 487.50,46.78 487.92,47.80 488.33,47.89 488.75,47.64 489.17,46.69 489.58,47.21 490.00,47.07" fill="none" stroke="#111" stroke-width="1.1" stroke-linejoin="round"/>
</g>
<g id="texts">
<text id="panel" x="119.89" y="148.30" font-size="16.89" fill="#000" textLength="38.47" lengthAdjust="spacingAndGlyphs">Panel</text>
<text id="antibody" x="102.18" y="177.60" font-size="16.91" fill="#000" textLength="57.05" lengthAdjust="spacingAndGlyphs">antibody</text>
<text id="risto" x="3.42" y="209.90" font-size="17.04" fill="#000" textLength="155.34" lengthAdjust="spacingAndGlyphs">Ristocetin (0.85 mg/ml)</text>
<text id="cxcl" x="30.50" y="242.30" font-size="16.30" fill="#000" textLength="128.20" lengthAdjust="spacingAndGlyphs">CXCL12 (30 ng/ml)</text>
<text id="trans" x="34.79" y="276.90" font-size="17.04" fill="#000" textLength="98.41" lengthAdjust="spacingAndGlyphs">Transmittance</text>
<text id="tpo" x="136.52" y="274.69" font-size="15.55" fill="#000" textLength="6.01" lengthAdjust="spacingAndGlyphs">(</text>
<text id="tpp" x="140.78" y="276.79" font-size="14.10" fill="#000" textLength="13.90" lengthAdjust="spacingAndGlyphs" style="font-weight:700;font-family:'Noto Serif CJK SC','Liberation Serif',serif">％</text>
<text id="tpc" x="152.56" y="274.69" font-size="15.55" fill="#000" textLength="6.04" lengthAdjust="spacingAndGlyphs">)</text>
<text id="ratio" x="96.34" y="306.60" font-size="17.33" fill="#000" textLength="36.89" lengthAdjust="spacingAndGlyphs">Ratio</text>
<text id="rpo" x="136.30" y="304.31" font-size="15.44" fill="#000" textLength="6.43" lengthAdjust="spacingAndGlyphs">(</text>
<text id="rpp" x="140.58" y="307.04" font-size="14.23" fill="#000" textLength="13.94" lengthAdjust="spacingAndGlyphs" style="font-weight:700;font-family:'Noto Serif CJK SC','Liberation Serif',serif">％</text>
<text id="rpc" x="152.47" y="304.31" font-size="15.44" fill="#000" textLength="6.05" lengthAdjust="spacingAndGlyphs">)</text>
<text id="small" x="119.22" y="342.00" font-size="16.74" fill="#10a8c8" textLength="39.04" lengthAdjust="spacingAndGlyphs">Small</text>
<text id="medium" x="102.86" y="368.30" font-size="16.89" fill="#00b050" textLength="55.88" lengthAdjust="spacingAndGlyphs">Medium</text>
<text id="large" x="119.03" y="394.10" font-size="16.59" fill="#ff0000" textLength="39.11" lengthAdjust="spacingAndGlyphs">Large</text>
<text id="total" x="123.37" y="431.60" font-size="16.74" fill="#000" textLength="35.69" lengthAdjust="spacingAndGlyphs">Total</text>
<text id="p1" x="211.21" y="148.80" font-size="15.25" fill="#000" textLength="9.19" lengthAdjust="spacingAndGlyphs">1</text>
<text id="p2" x="326.53" y="148.80" font-size="15.25" fill="#000" textLength="8.91" lengthAdjust="spacingAndGlyphs">2</text>
<text id="p3" x="436.50" y="148.80" font-size="15.25" fill="#000" textLength="8.55" lengthAdjust="spacingAndGlyphs">3</text>
<text id="ctrl" x="193.85" y="178.60" font-size="14.79" fill="#000" textLength="44.76" lengthAdjust="spacingAndGlyphs">control</text>
<text id="ab4" x="292.67" y="178.30" font-size="14.81" fill="#000" textLength="77.06" lengthAdjust="spacingAndGlyphs">anti-CXCR4</text>
<text id="ab7" x="402.37" y="178.30" font-size="14.96" fill="#000" textLength="77.30" lengthAdjust="spacingAndGlyphs">anti-CXCR7</text>
<text id="t1" x="206.06" y="278.00" font-size="15.60" fill="#000" textLength="16.26" lengthAdjust="spacingAndGlyphs">80</text>
<text id="t2" x="319.90" y="278.00" font-size="15.60" fill="#000" textLength="16.05" lengthAdjust="spacingAndGlyphs">14</text>
<text id="t3" x="432.33" y="278.00" font-size="15.60" fill="#000" textLength="16.05" lengthAdjust="spacingAndGlyphs">86</text>
<text id="s1" x="204.27" y="344.00" font-size="15.60" fill="#10a8c8" textLength="16.22" lengthAdjust="spacingAndGlyphs">24</text>
<text id="s2" x="321.02" y="344.00" font-size="15.60" fill="#10a8c8" textLength="15.91" lengthAdjust="spacingAndGlyphs">70</text>
<text id="s3" x="432.10" y="344.00" font-size="15.60" fill="#10a8c8" textLength="16.10" lengthAdjust="spacingAndGlyphs">26</text>
<text id="m1" x="204.25" y="369.90" font-size="15.60" fill="#00b050" textLength="16.69" lengthAdjust="spacingAndGlyphs">20</text>
<text id="m2" x="321.27" y="369.90" font-size="15.60" fill="#00b050" textLength="15.85" lengthAdjust="spacingAndGlyphs">25</text>
<text id="m3" x="431.98" y="369.90" font-size="15.60" fill="#00b050" textLength="16.20" lengthAdjust="spacingAndGlyphs">20</text>
<text id="l1" x="204.71" y="395.60" font-size="15.60" fill="#ff0000" textLength="15.98" lengthAdjust="spacingAndGlyphs">56</text>
<text id="l2" x="327.83" y="395.60" font-size="15.60" fill="#ff0000" textLength="8.15" lengthAdjust="spacingAndGlyphs">5</text>
<text id="l3" x="432.00" y="395.60" font-size="15.60" fill="#ff0000" textLength="15.90" lengthAdjust="spacingAndGlyphs">54</text>
<text id="o1" x="198.57" y="432.80" font-size="15.60" fill="#000" textLength="23.18" lengthAdjust="spacingAndGlyphs">100</text>
<text id="o2" x="312.71" y="432.80" font-size="15.60" fill="#000" textLength="24.29" lengthAdjust="spacingAndGlyphs">100</text>
<text id="o3" x="424.07" y="432.80" font-size="15.60" fill="#000" textLength="23.92" lengthAdjust="spacingAndGlyphs">100</text>
<text id="pl11" x="208.99" y="213.65" font-size="22.57" fill="#000" textLength="14.24" lengthAdjust="spacingAndGlyphs">+</text>
<text id="pl12" x="323.90" y="213.65" font-size="22.57" fill="#000" textLength="14.10" lengthAdjust="spacingAndGlyphs">+</text>
<text id="pl13" x="433.82" y="213.65" font-size="22.57" fill="#000" textLength="13.50" lengthAdjust="spacingAndGlyphs">+</text>
<text id="pl21" x="209.81" y="245.35" font-size="22.57" fill="#000" textLength="13.89" lengthAdjust="spacingAndGlyphs">+</text>
<text id="pl22" x="324.51" y="245.35" font-size="22.57" fill="#000" textLength="13.81" lengthAdjust="spacingAndGlyphs">+</text>
<text id="pl23" x="434.06" y="245.35" font-size="22.57" fill="#000" textLength="13.50" lengthAdjust="spacingAndGlyphs">+</text>
<text id="y3" x="152.08" y="29.60" font-size="17.07" fill="#000" textLength="8.97" lengthAdjust="spacingAndGlyphs">3</text>
<text id="y2" x="152.23" y="55.90" font-size="17.37" fill="#000" textLength="8.82" lengthAdjust="spacingAndGlyphs">2</text>
<text id="y1" x="151.41" y="81.60" font-size="17.07" fill="#000" textLength="9.99" lengthAdjust="spacingAndGlyphs">1</text>
<text id="y0" x="152.22" y="106.30" font-size="16.92" fill="#000" textLength="9.41" lengthAdjust="spacingAndGlyphs">0</text>
<text id="x10" x="166.14" y="118.40" font-size="16.92" fill="#000" textLength="9.07" lengthAdjust="spacingAndGlyphs">0</text>
<text id="x11" x="257.11" y="118.60" font-size="16.92" fill="#000" textLength="17.95" lengthAdjust="spacingAndGlyphs">10</text>
<text id="x20" x="275.65" y="118.60" font-size="16.92" fill="#000" textLength="9.83" lengthAdjust="spacingAndGlyphs">0</text>
<text id="x21" x="371.23" y="118.90" font-size="16.46" fill="#000" textLength="17.53" lengthAdjust="spacingAndGlyphs">10</text>
<text id="x30" x="388.39" y="118.90" font-size="16.46" fill="#000" textLength="9.52" lengthAdjust="spacingAndGlyphs">0</text>
<text id="x31" x="477.62" y="118.50" font-size="16.76" fill="#000" textLength="17.06" lengthAdjust="spacingAndGlyphs">10</text>
<text id="tm1" x="180.72" y="127.70" font-size="14.81" fill="#000" textLength="63.25" lengthAdjust="spacingAndGlyphs">Time (min)</text>
<text id="tm2" x="297.05" y="127.70" font-size="14.81" fill="#000" textLength="63.40" lengthAdjust="spacingAndGlyphs">Time (min)</text>
<text id="tm3" x="408.37" y="127.70" font-size="14.81" fill="#000" textLength="63.28" lengthAdjust="spacingAndGlyphs">Time (min)</text>
<text id="r120" x="492.86" y="29.90" font-size="16.61" fill="#000" textLength="25.19" lengthAdjust="spacingAndGlyphs">120</text>
<text id="r0" x="508.44" y="94.70" font-size="16.61" fill="#000" textLength="9.44" lengthAdjust="spacingAndGlyphs">0</text>
<text id="lab1" transform="translate(126.70,121.00) rotate(-90)" x="0" y="0" font-size="15.00" fill="#000" textLength="103.50" lengthAdjust="spacingAndGlyphs">Laser scattering</text>
<text id="lab2" transform="translate(142.00,120.70) rotate(-90)" x="0" y="0" font-size="15.00" fill="#000" textLength="111.80" lengthAdjust="spacingAndGlyphs">intensity (<tspan class="pc">x</tspan> 10<tspan font-weight="700" font-size="10.20" dy="-2.6" dx="0.6">2</tspan><tspan dy="2.6" dx="-2">&#160;V)</tspan></text>
<text id="pct" transform="translate(530.50,4.10) rotate(90)" x="0" y="0" font-size="15.00" fill="#000" textLength="111.50" lengthAdjust="spacingAndGlyphs"><tspan class="pc">%</tspan> transmittance</text>
</g>
<rect x="32" y="320.3" width="465" height="3.1" fill="#000"/>
<rect x="32" y="404.7" width="465" height="3.2" fill="#000"/>
</svg>
</body></html>
